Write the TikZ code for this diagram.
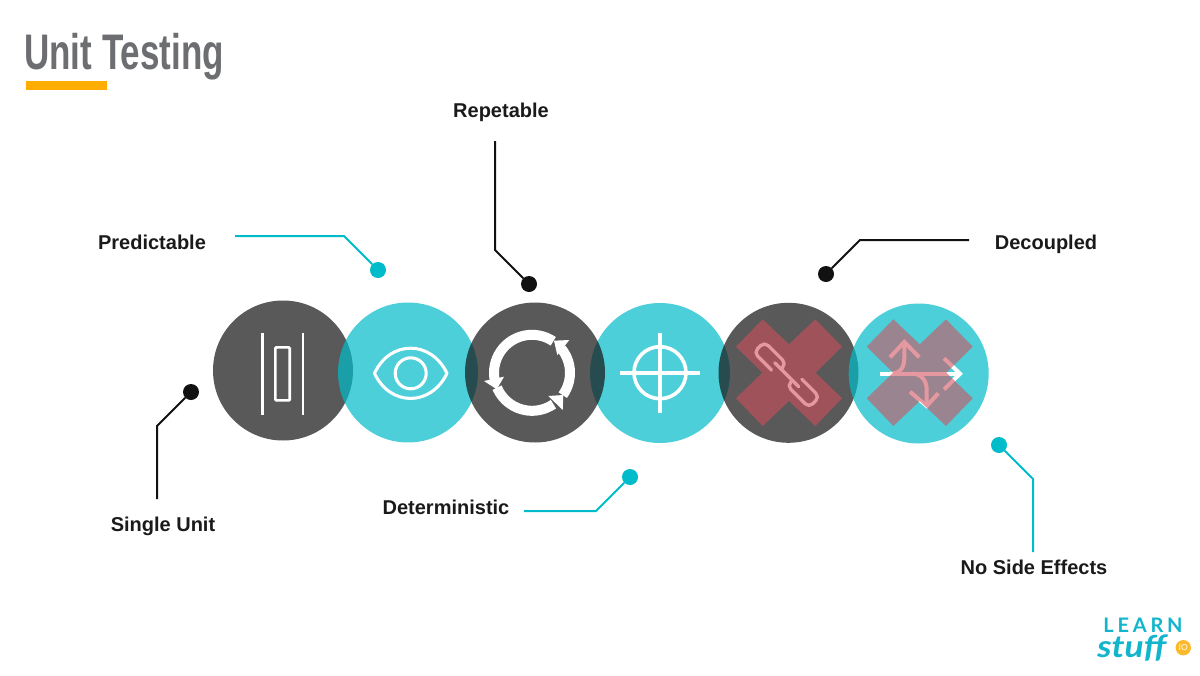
\documentclass[tikz,border=0pt]{standalone}
\usepackage{fontspec}
\setmainfont{Liberation Sans}
\newfontfamily\titlefont[FakeStretch=0.70]{Liberation Sans}
\newfontfamily\learnfont[LetterSpace=19]{Lato}
\newfontfamily\stufffont{Lato}
\definecolor{tealbase}{HTML}{00BCCA}
\definecolor{darkbase}{HTML}{1A1A1A}
\definecolor{crossred}{HTML}{D44E5C}
\definecolor{inkblack}{HTML}{111111}
\definecolor{labelink}{HTML}{1A1A1A}
\definecolor{titlegrey}{HTML}{6D6E71}
\definecolor{baramber}{HTML}{FFAE00}
\definecolor{logoteal}{HTML}{12B5CB}
\definecolor{logoyellow}{HTML}{FDB92C}
\tikzset{
  disc/.style={circle,inner sep=0pt,minimum size=105pt,draw=none},
  darkdisc/.style={disc,fill=darkbase,fill opacity=.72},
  tealdisc/.style={disc,fill=tealbase,fill opacity=.70},
  icon/.style={draw=white,line width=2.3pt},
  capicon/.style={icon,line width=2.5pt,line cap=round,line join=round},
  crossmark/.style={fill=crossred,fill opacity=.58,draw=none},
  dotk/.style={circle,inner sep=0pt,minimum size=12pt,fill=inkblack},
  dott/.style={circle,inner sep=0pt,minimum size=12pt,fill=tealbase},
  linek/.style={draw=inkblack,line width=1.5pt},
  linet/.style={draw=tealbase,line width=1.5pt},
  lbl/.style={anchor=base,inner sep=0pt,text=labelink,font=\fontsize{15}{18}\selectfont\bfseries},
}
\newcommand{\crossat}[2]{%
  \fill[crossmark,shift={(#1,#2)}]
    (-26.3,-53.4) -- (0,-28.4) -- (26.3,-53.4) -- (53,-26) -- (26.6,0) -- (53,25.6)
    -- (26.3,53.3) -- (0,28.3) -- (-26.3,53.3) -- (-53,25.6) -- (-26.6,0) -- (-53,-26) -- cycle;}
\begin{document}
\begin{tikzpicture}[x=.75pt,y=-.75pt]
\useasboundingbox (0,0) rectangle (1200,675);
\fill[white] (0,0) rectangle (1200,675);
% title
\node[anchor=base west,inner sep=0pt,text=titlegrey,font=\fontsize{37.5}{44}\selectfont\titlefont\bfseries] (title) at (24,69.3) {Unit Testing};
\fill[baramber] (26,81) rectangle (107,90);
% discs
\node[darkdisc] (c1) at (283,370.5) {};
\node[tealdisc] (c2) at (408,372.5) {};
\node[tealdisc] (c4) at (660,373) {};
\node[darkdisc] (c3) at (535,372.5) {};
\node[darkdisc] (c5) at (788.5,372.8) {};
\node[tealdisc] (c6) at (918.7,373.5) {};
% icon 1
\draw[icon,line width=2.2pt] (262.3,333.3) -- (262.3,415);
\draw[icon,line width=2.2pt] (303,333.3) -- (303,415);
\draw[icon,line width=2pt,rounded corners=.8pt] (275.4,347.4) rectangle (289.8,400.4);
% icon 2 eye
\draw[icon,line join=round] (374.5,373.3) .. controls (390,339.8) and (431,339.8) .. (447,373.3)
  .. controls (431,406.8) and (390,406.8) .. cycle;
\draw[icon] (410.7,373.3) circle[radius=15.5];
% icon 3 cycle
\begin{scope}[shift={(532,372.8)}]
\draw[draw=white,line width=7.5pt] (0,0) ++(36:38) arc[start angle=36,end angle=-39.5,radius=38];
\draw[draw=white,line width=7.5pt] (0,0) ++(157:38) arc[start angle=157,end angle=55.7,radius=38];
\draw[draw=white,line width=7.5pt] (0,0) ++(-56:38) arc[start angle=-56,end angle=-193,radius=38];
\end{scope}
\fill[white] (554,340.7) -- (569.3,340) -- (557.3,355) -- cycle;
\fill[white] (548.3,396) -- (563.3,395) -- (562.7,410) -- cycle;
\fill[white] (484,381) -- (504,376.7) -- (496.7,389.3) -- cycle;
% icon 4 crosshair
\draw[icon,line width=2.7pt] (620,372.7) -- (700,372.7);
\draw[icon,line width=2.7pt] (660,333.3) -- (660,413.3);
\draw[icon,line width=2.7pt] (660,372.7) circle[radius=26];
% icon 5 link
\begin{scope}[shift={(786.7,374.7)},rotate=-45]
\draw[capicon,rounded corners=4pt] (-14,7.5) -- (-39,7.5) -- (-39,-7.5) -- (-8,-7.5) -- (-8,-1.5);
\draw[capicon,rounded corners=4pt] (14,-7.5) -- (39,-7.5) -- (39,7.5) -- (8,7.5) -- (8,1.5);
\draw[capicon] (-17,0) -- (17,0);
\end{scope}
% icon 6 split arrows
\draw[icon,line width=3pt] (880,373.7) -- (958,373.7);
\draw[icon,line width=3pt] (944,358.3) -- (960,373.7) -- (944,389.5);
\draw[icon,line width=3pt] (890,373.7) .. controls (900,373.7) and (904.3,368) .. (904.3,358) -- (904.3,342);
\draw[icon,line width=3pt] (890,357.3) -- (904.3,342) -- (919.3,357.3);
\draw[icon,line width=3pt] (912,373.7) .. controls (921,373.7) and (926.7,380) .. (926.7,390) -- (926.7,406);
\draw[icon,line width=3pt] (910,391.7) -- (926.7,406) -- (938.3,393.3);
% crosses
\crossat{789}{372.7}
\crossat{919.7}{372.7}
% connectors and labels
\node[lbl] (lpred) at (152,249) {Predictable};
\node[lbl] (lrep) at (501,117) {Repetable};
\node[lbl] (ldec) at (1046,249) {Decoupled};
\node[lbl] (lsing) at (163,531) {Single Unit};
\node[lbl] (ldet) at (446,514) {Deterministic};
\node[lbl] (lnose) at (1034,574) {No Side Effects};
\node[dott] (dpred) at (378,270) {};
\node[dotk] (drep) at (529,284) {};
\node[dotk] (ddec) at (826,274) {};
\node[dotk] (dsing) at (191,392) {};
\node[dott] (ddet) at (630,477) {};
\node[dott] (dnose) at (999,445) {};
\coordinate (spred) at (235,236); \coordinate (bpred) at (344,236);
\coordinate (srep) at (495,141); \coordinate (brep) at (495,250);
\coordinate (sdec) at (969,240); \coordinate (bdec) at (860,240);
\coordinate (ssing) at (157,499); \coordinate (bsing) at (157,426);
\coordinate (sdet) at (524,511); \coordinate (bdet) at (596,511);
\coordinate (snose) at (1033,552); \coordinate (bnose) at (1033,479);
\draw[linet] (spred) -- (bpred) -- (dpred);
\draw[linek] (srep) -- (brep) -- (drep);
\draw[linek] (sdec) -- (bdec) -- (ddec);
\draw[linek] (ssing) -- (bsing) -- (dsing);
\draw[linet] (sdet) -- (bdet) -- (ddet);
\draw[linet] (snose) -- (bnose) -- (dnose);
% logo
\node[anchor=base,inner sep=0pt,text=logoteal,font=\fontsize{15}{18}\selectfont\learnfont\bfseries] (learn) at (1143,632.3) {LEARN};
\node[anchor=base west,inner sep=0pt,text=logoteal,font=\fontsize{28}{32}\selectfont\stufffont\bfseries\itshape] (stuff) at (1097,657) {\scalebox{0.95}[0.82]{stuff}};
\node[circle,inner sep=0pt,minimum size=11.5pt,fill=logoyellow,text=white,font=\fontsize{6.5}{7}\selectfont] (io) at (1183.3,647.7) {IO};
\end{tikzpicture}
\end{document}
